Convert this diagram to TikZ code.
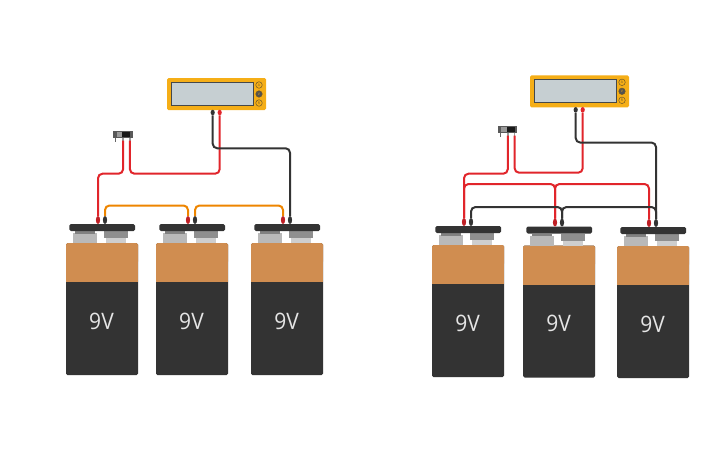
\documentclass[tikz,border=0pt]{standalone}
\usepackage{fontspec}
\setmainfont{Open Sans}
\usetikzlibrary{shapes.geometric}
\definecolor{cellcopper}{HTML}{D08D50}
\definecolor{celldark}{HTML}{333333}
\definecolor{termlight}{HTML}{B9B9B9}
\definecolor{termdark}{HTML}{8F8F8F}
\definecolor{meteramber}{HTML}{F5AE17}
\definecolor{meterglass}{HTML}{C6CFD2}
\definecolor{wirered}{HTML}{E1252B}
\definecolor{wireorange}{HTML}{EE8500}
\tikzset{
    box/.style={inner sep=0pt, outer sep=0pt, anchor=north west},
    tip/.style={ellipse, inner sep=0pt, minimum width=4.2pt, minimum height=8pt, outer sep=0pt},
    wire/.style={line width=2pt, rounded corners=4.5pt},
    knob/.style={circle, draw=celldark!70!meteramber, line width=0.5pt, inner sep=0pt, minimum size=6.5pt, font=\fontsize{3.5}{4}\selectfont, text=celldark!70!meteramber},
}
% name, left, top, body height
\newcommand{\cell}[4]{
    \node[box, fill=celldark, rounded corners=1.5pt, minimum width=72pt, minimum height=#4pt] (#1) at (#2,#3) {};
    \node[box, fill=cellcopper, rounded corners=1.5pt, minimum width=72pt, minimum height=20pt] (#1top) at (#2,#3) {};
    \node[box, fill=cellcopper, minimum width=72pt, minimum height=35pt] (#1mid) at ([shift={(0,4)}]#1top.north west) {};
    \node[text=white!90!black, yscale=1.08, font=\fontsize{21}{24}\selectfont] (#1txt) at ([shift={(35.5,78)}]#1top.north west) {9V};
    \node[box, fill=termlight, minimum width=24pt, minimum height=10pt] (#1la) at ([shift={(6.7,-10)}]#1top.north west) {};
    \node[box, fill=termdark!90!black, minimum width=20pt, minimum height=2.5pt] (#1lb) at ([shift={(9,-12)}]#1top.north west) {};
    \node[box, fill=termlight!70!white, minimum width=20pt, minimum height=5pt] (#1ra) at ([shift={(40,-5)}]#1top.north west) {};
    \node[box, fill=termdark, minimum width=24pt, minimum height=7pt] (#1rb) at ([shift={(38,-12)}]#1top.north west) {};
    \node[box, fill=celldark, rounded corners=1.5pt, minimum width=65.7pt, minimum height=7pt] (#1bar) at ([shift={(3.3,-19)}]#1top.north west) {};
    \node[tip, fill=wirered!85!black] (#1p) at ([shift={(32,-23)}]#1top.north west) {};
    \node[tip, fill=celldark] (#1n) at ([shift={(39,-23)}]#1top.north west) {};
}
% name, left, top
\newcommand{\meter}[3]{
    \node[box, fill=meteramber, rounded corners=1.5pt, minimum width=99pt, minimum height=32pt] (#1) at (#2,#3) {};
    \node[box, fill=meterglass, draw=black!65!meterglass, line width=1pt, minimum width=82.5pt, minimum height=23.5pt] (#1scr) at ([shift={(4,4)}]#1.north west) {};
    \node[knob] (#1a) at ([shift={(92,7)}]#1.north west) {A};
    \node[knob, fill=celldark!85!white, text=meteramber] (#1v) at ([shift={(92,16)}]#1.north west) {V};
    \node[knob] (#1r) at ([shift={(92,25)}]#1.north west) {R};
    \node[tip, fill=celldark, minimum height=5.5pt] (#1n) at ([shift={(45.7,34.5)}]#1.north west) {};
    \node[tip, fill=wirered, minimum height=5.5pt] (#1p) at ([shift={(52.7,34.5)}]#1.north west) {};
}
% name, left, top
\newcommand{\switch}[3]{
    \node[box, fill=black!60!white, minimum width=1pt, minimum height=11pt] (#1x) at ([shift={(1.5,0)}]#2,#3) {};
    \node[box, fill=black!40!white, minimum width=1.6pt, minimum height=10pt] (#1a) at ([shift={(9,0)}]#2,#3) {};
    \node[box, fill=black!40!white, minimum width=1.6pt, minimum height=10pt] (#1b) at ([shift={(15.8,0)}]#2,#3) {};
    \node[box, fill=black!65!white, minimum width=19.4pt, minimum height=7pt] (#1) at (#2,#3) {};
    \node[box, fill=black!40!white, minimum width=5.4pt, minimum height=4.6pt] (#1s) at ([shift={(3.4,1.2)}]#2,#3) {};
    \node[box, fill=black!90!white, minimum width=8pt, minimum height=4.6pt] (#1k) at ([shift={(8.8,1.2)}]#2,#3) {};
}

\begin{document}
\begin{tikzpicture}[x=1pt, y=-1pt]
    \useasboundingbox (0,0) rectangle (725,453);

    % left circuit
    \cell{ca}{66}{243}{132}
    \cell{cb}{156}{243}{132}
    \cell{cc}{251}{243}{132}
    \meter{ma}{167}{78}
    \switch{sa}{113.3}{130.7}

    \draw[wire, wirered] (saa.south) -- ++(0,33) -| (cap.north);
    \draw[wire, wirered] (sab.south) -- ++(0,33) -| (map.south);
    \draw[wire, celldark] (man.south) -- ++(0,33) -| (ccn.north);
    \draw[wire, wireorange] (can.north) -- ++(0,-10.5) -| (cbp.north);
    \draw[wire, wireorange] (cbn.north) -- ++(0,-10.5) -| (ccp.north);

    % right circuit
    \cell{cd}{432}{245}{132}
    \cell{ce}{523}{245.5}{132}
    \cell{cf}{617}{246}{132}
    \meter{mb}{530}{75.3}
    \switch{sb}{498}{125.7}

    \draw[wire, wirered] (sba.south) -- ++(0,38) -| (cdp.north);
    \draw[wire, wirered] (sbb.south) -- ++(0,37) -| (mbp.south);
    \draw[wire, wirered] (cdp.north) -- ++(0,-34) -| (cep.north);
    \draw[wire, wirered] (cep.north) -- ++(0,-34.5) -| (cfp.north);
    \draw[wire, celldark] (mbn.south) -- ++(0,30) -| (cfn.north);
    \draw[wire, celldark] (cdn.north) -- ++(0,-11) -| (cen.north);
    \draw[wire, celldark] (cen.north) -- ++(0,-11.5) -| (cfn.north);
\end{tikzpicture}
\end{document}
